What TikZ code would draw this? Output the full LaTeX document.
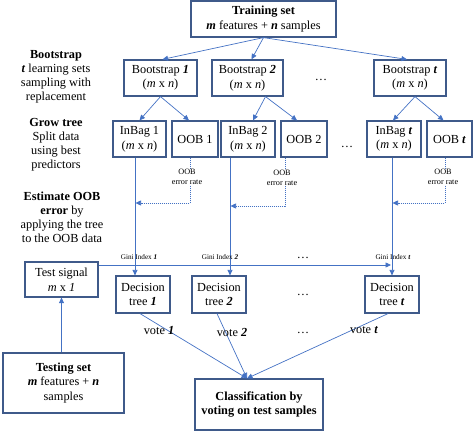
\documentclass[tikz,border=0pt]{standalone}
\usepackage{fontspec}
\setmainfont{Liberation Serif}
\usetikzlibrary{arrows.meta}
\definecolor{boxc}{HTML}{3F5A8A}
\definecolor{arrc}{HTML}{4472C4}
\newcommand{\bi}[1]{\textbf{\textit{#1}}}
\begin{document}
\begin{tikzpicture}[x=1pt,y=-1pt,
  font=\fontsize{12.3}{14.5}\selectfont,
  box/.style={draw=boxc,line width=1.2pt,align=center,inner sep=0pt,fill=white},
  arr/.style={draw=arrc,line width=0.7pt,-{Triangle[length=5.5pt,width=5pt]}},
  dotarr/.style={arr,dash pattern=on 1pt off 1pt},
  lbl/.style={align=center,inner sep=0pt,font=\fontsize{12.3}{14}\selectfont},
  small/.style={align=center,inner sep=0.5pt,font=\fontsize{7.2}{9.5}\selectfont},
  oobl/.style={align=center,inner sep=0.5pt,fill=white,font=\fontsize{8.2}{10}\selectfont},
  dots/.style={inner sep=0pt}]
\useasboundingbox (0,0) rectangle (474,433);

% boxes
\node[box,minimum width=145pt,minimum height=36pt] (train) at (263.5,19) {\textbf{Training set}\\\bi{m} features + \bi{n} samples};
\node[box,minimum width=73pt,minimum height=36pt] (bs1) at (160.5,78) {Bootstrap \bi{1}\\(\textit{m} x \textit{n})};
\node[box,minimum width=71pt,minimum height=36pt] (bs2) at (247.5,78) {Bootstrap \bi{2}\\(\textit{m} x \textit{n})};
\node[box,minimum width=72pt,minimum height=36pt] (bst) at (410,78) {Bootstrap \bi{t}\\(\textit{m} x \textit{n})};

\node[box,minimum width=53pt,minimum height=36pt] (inbag1) at (139.5,139) {InBag 1\\(\textit{m} x \textit{n})};
\node[box,minimum width=46pt,minimum height=36pt] (oob1) at (195,139) {OOB 1};
\node[box,minimum width=54pt,minimum height=36pt] (inbag2) at (248,139) {InBag 2\\(\textit{m} x \textit{n})};
\node[box,minimum width=46pt,minimum height=36pt] (oob2) at (304,139) {OOB 2};
\node[box,minimum width=54pt,minimum height=36pt] (inbagt) at (394,139) {InBag \bi{t}\\(\textit{m} x \textit{n})};
\node[box,minimum width=45pt,minimum height=36pt] (oobt) at (449.5,139) {OOB \bi{t}};

\node[box,minimum width=54pt,minimum height=37pt] (dt1) at (143,294.5) {Decision\\tree \bi{1}};
\node[box,minimum width=54pt,minimum height=37pt] (dt2) at (219,294.5) {Decision\\tree \bi{2}};
\node[box,minimum width=54pt,minimum height=37pt] (dtt) at (392,294.5) {Decision\\tree \bi{t}};

\node[box,minimum width=73pt,minimum height=35pt] (testsig) at (61.5,279.5) {Test signal\\\textit{m} x \textit{1}};
\node[box,minimum width=121pt,minimum height=60pt] (testing) at (63.5,383) {\textbf{Testing set}\\\bi{m} features + \bi{n}\\samples};
\node[box,minimum width=128pt,minimum height=51pt] (class) at (259,404.5) {\textbf{Classification by}\\\textbf{voting on test samples}};

% left labels
\node[lbl] (lab1) at (56,77) {\textbf{Bootstrap}\\\bi{t} learning sets\\sampling with\\replacement};
\node[lbl] (lab2) at (56,145) {\textbf{Grow tree}\\Split data\\using best\\predictors};
\node[lbl] (lab3) at (62,217) {\textbf{Estimate OOB}\\\textbf{error} by\\applying the tree\\to the OOB data};

% ellipses
\node[dots] (e1) at (321,80) {\dots};
\node[dots] (e2) at (347,147) {\dots};
\node[dots] (e3) at (303,258) {\dots};
\node[dots] (e4) at (303,295) {\dots};
\node[dots] (e5) at (303,333) {\dots};

% bootstrap arrows
\draw[arr] (train.south) -- ([xshift=2pt]bs1.north);
\draw[arr] (train.south) -- ([xshift=4pt]bs2.north);
\draw[arr] (train.south) -- ([xshift=-3pt]bst.north);

\draw[arr] (bs1.south) -- (inbag1.north);
\draw[arr] (bs1.south) -- ([xshift=-6pt]oob1.north);
\draw[arr] ([xshift=18pt]bs2.south) -- ([xshift=5pt]inbag2.north);
\draw[arr] ([xshift=18pt]bs2.south) -- ([xshift=-7pt]oob2.north);
\draw[arr] ([xshift=5pt]bst.south) -- ([xshift=-1pt]inbagt.north);
\draw[arr] ([xshift=5pt]bst.south) -- ([xshift=-6pt]oobt.north);

% vertical lines InBag -> Decision tree
\coordinate (x1) at (135,0);
\coordinate (x2) at (230,0);
\coordinate (xt) at (392,0);
\coordinate (gy) at (0,265);
\draw[arr] (inbag1.south -| x1) -- (dt1.north -| x1);
\draw[arr] (inbag2.south -| x2) -- (dt2.north -| x2);
\draw[arr] (inbagt.south -| xt) -- (dtt.north -| xt);

% OOB error paths
\coordinate (o1) at (190,203);
\coordinate (o2) at (285,206);
\coordinate (ot) at (445,203);
\draw[dotarr] (oob1.south -| o1) -- (o1) -- ([xshift=0.5pt]x1 |- o1);
\draw[dotarr] (oob2.south -| o2) -- (o2) -- ([xshift=0.5pt]x2 |- o2);
\draw[dotarr] (oobt.south -| ot) -- (ot) -- ([xshift=0.5pt]xt |- ot);
\node[oobl] (r1) at (187,177) {OOB\\error rate};
\node[oobl] (r2) at (282,178) {OOB\\error rate};
\node[oobl] (rt) at (443,177) {OOB\\error rate};

% Gini line
\draw[arr] (testsig.east |- gy) -- ([xshift=-1pt]xt |- gy);
\node[small] (g1) at (139,257) {Gini Index \bi{1}};
\node[small] (g2) at (220,257) {Gini Index \bi{2}};
\node[small] (gt) at (393,257) {Gini Index \bi{t}};

% testing -> test signal
\draw[arr] (testing.north -| testsig.south) -- (testsig.south);

% votes
\draw[arr] ([xshift=-3pt]dt1.south) -- ([xshift=-12pt]class.north);
\draw[arr] ([xshift=-2pt]dt2.south) -- ([xshift=-12pt]class.north);
\draw[arr] ([xshift=-4pt]dtt.south) -- ([xshift=-12pt]class.north);
\node[lbl] (v1) at (159,330) {vote \bi{1}};
\node[lbl] (v2) at (232,332) {vote \bi{2}};
\node[lbl] (vt) at (364,330) {vote \bi{t}};
\end{tikzpicture}
\end{document}
